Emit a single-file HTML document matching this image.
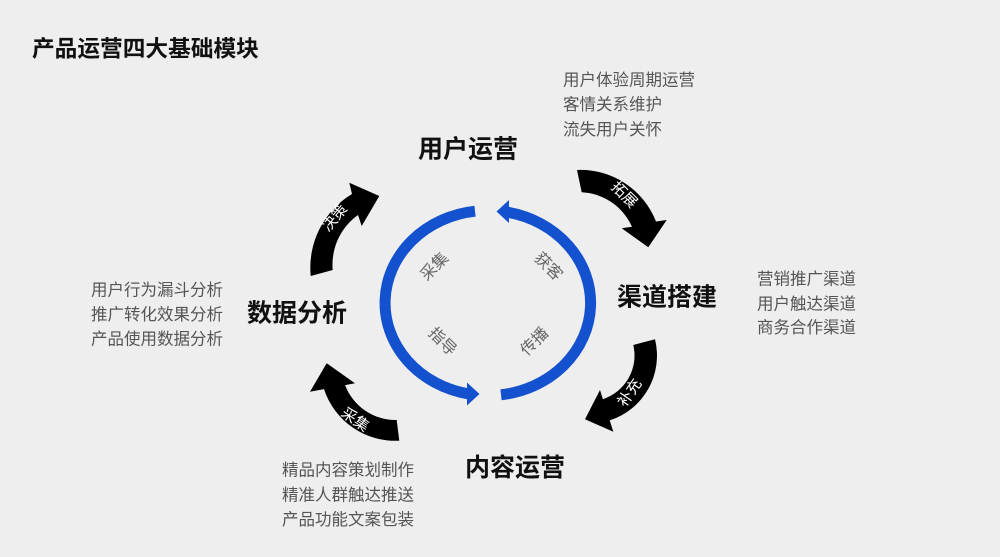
<!DOCTYPE html>
<html><head><meta charset="utf-8"><style>
html,body{margin:0;padding:0;background:#eeeeee;}
svg{display:block;}
text{font-family:"Liberation Sans","Noto Sans CJK SC",sans-serif;}
</style></head><body>
<svg width="1000" height="557" viewBox="0 0 1000 557" xmlns="http://www.w3.org/2000/svg">
<rect width="1000" height="557" fill="#eeeeee"/>
<text x="32" y="48.5" font-size="22.7" font-weight="bold" fill="#111" dominant-baseline="central">产品运营四大基础模块</text>

<!-- blue ring -->
<path d="M475,211.2 A102.5 92.5 0 0 0 468,393.8" fill="none" stroke="#1351cf" stroke-width="11"/>
<polygon points="467,382.5 479.5,394 467,405.5" fill="#1351cf"/>
<path d="M501,394.8 A102.5 92.5 0 0 0 508,212.3" fill="none" stroke="#1351cf" stroke-width="11"/>
<polygon points="509,200 496.5,211.5 509,223" fill="#1351cf"/>

<!-- inner labels -->
<g font-size="16" fill="#666">
<text x="435" y="267" text-anchor="middle" dominant-baseline="central" transform="rotate(-45 435 267)">采集</text>
<text x="548" y="267" text-anchor="middle" dominant-baseline="central" transform="rotate(45 548 267)">获客</text>
<text x="442" y="342" text-anchor="middle" dominant-baseline="central" transform="rotate(45 442 342)">指导</text>
<text x="535" y="342" text-anchor="middle" dominant-baseline="central" transform="rotate(-45 535 342)">传播</text>
</g>

<!-- black arrows -->
<path d="M577,170 A81 81 0 0 1 656,221.5 L666.7,220 L648.3,247.3 L621.7,228.3 L632,226.8 A58 58 0 0 0 581.7,192.3 Z" fill="#000"/>
<path d="M655,339.3 A68 68 0 0 1 609.7,420.4 L613.3,431.7 L585,419.3 L600,390 L602.9,399.2 A46 46 0 0 0 633.3,345 Z" fill="#000"/>
<path d="M399.3,440.7 A75 75 0 0 1 324,389.1 L310,391.7 L326.7,363.3 L355,383.3 L345.1,385.1 A54 54 0 0 0 396.7,420 Z" fill="#000"/>
<path d="M310.7,276 A86 86 0 0 1 352,194 L349.3,182.7 L379.3,196 L361.7,226 L358,215 A61 61 0 0 0 332.7,270 Z" fill="#000"/>

<g font-size="15" fill="#fff">
<text x="624" y="195" text-anchor="middle" dominant-baseline="central" transform="rotate(45 624 195)">拓展</text>
<text x="630" y="393" text-anchor="middle" dominant-baseline="central" transform="rotate(-55 630 393)">补充</text>
<text x="355" y="420" text-anchor="middle" dominant-baseline="central" transform="rotate(35 355 420)">采集</text>
<text x="335" y="218" text-anchor="middle" dominant-baseline="central" transform="rotate(-50 335 218)">决策</text>
</g>

<!-- titles -->
<g font-size="25" font-weight="bold" fill="#111">
<text x="418" y="149.5" dominant-baseline="central">用户运营</text>
<text x="617" y="297.5" dominant-baseline="central">渠道搭建</text>
<text x="465" y="468" dominant-baseline="central">内容运营</text>
<text x="247" y="313.5" dominant-baseline="central">数据分析</text>
</g>

<!-- descriptions -->
<g font-size="16.5" fill="#555">
<text x="563" y="80.5" dominant-baseline="central">用户体验周期运营</text>
<text x="563" y="105" dominant-baseline="central">客情关系维护</text>
<text x="563" y="130" dominant-baseline="central">流失用户关怀</text>

<text x="757" y="279.5" dominant-baseline="central">营销推广渠道</text>
<text x="757" y="304.5" dominant-baseline="central">用户触达渠道</text>
<text x="757" y="328" dominant-baseline="central">商务合作渠道</text>

<text x="91" y="290.5" dominant-baseline="central">用户行为漏斗分析</text>
<text x="91" y="315" dominant-baseline="central">推广转化效果分析</text>
<text x="91" y="339.5" dominant-baseline="central">产品使用数据分析</text>

<text x="282" y="470.5" dominant-baseline="central">精品内容策划制作</text>
<text x="282" y="495.5" dominant-baseline="central">精准人群触达推送</text>
<text x="282" y="520" dominant-baseline="central">产品功能文案包装</text>
</g>
</svg>
</body></html>
